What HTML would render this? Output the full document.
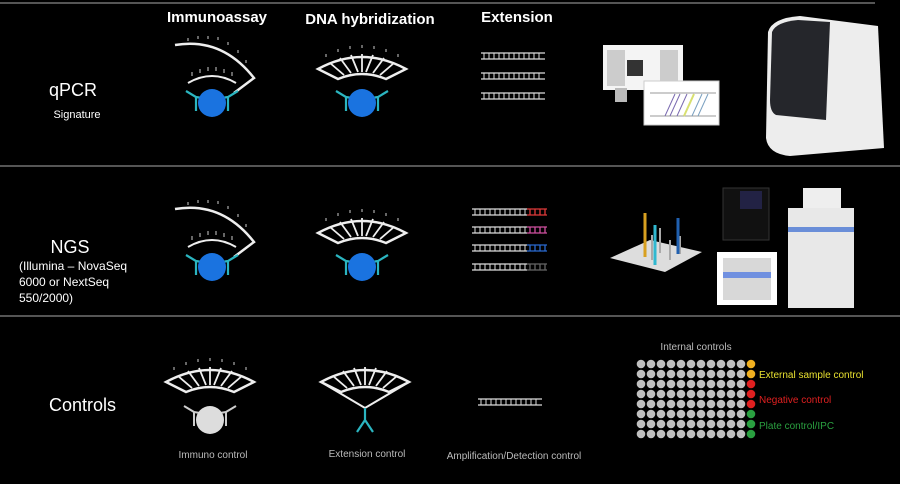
<!DOCTYPE html>
<html><head><meta charset="utf-8"><style>
html,body{margin:0;padding:0;background:#000;}
body{width:900px;height:479px;overflow:hidden;font-family:"Liberation Sans",sans-serif;}
</style></head><body>
<svg width="900" height="479" viewBox="0 0 900 479" xmlns="http://www.w3.org/2000/svg" font-family="Liberation Sans, sans-serif">
<defs>
  <g id="ladder">
    <line x1="0" y1="0" x2="64" y2="0" stroke="#ddd" stroke-width="1.3"/>
    <line x1="0" y1="6" x2="64" y2="6" stroke="#ddd" stroke-width="1.3"/>
    <path d="M3 0v6M8 0v6M13 0v6M18 0v6M23 0v6M28 0v6M33 0v6M38 0v6M43 0v6M48 0v6M53 0v6M58 0v6" stroke="#ddd" stroke-width="1"/>
  </g>
  <g id="teal">
    <path d="M-26 -12 L-16 -6 L-16 8 M-16 -6 L-4 -4 M26 -12 L16 -6 L16 8 M16 -6 L4 -4" stroke="#2bb5c0" stroke-width="2.2" fill="none"/>
  </g>
  <g id="immuno">
    <path d="M-37 -58 Q10 -66 42 -25 L22 -10" stroke="#eee" stroke-width="2.5" fill="none"/>
    <path d="M-24 -20 Q0 -34 24 -20" stroke="#eee" stroke-width="2" fill="none"/>
    <path d="M-20 -27v-4M-12 -30v-4M-4 -32v-4M4 -32v-4M12 -30v-4M20 -27v-4M-24 -62v-3M-14 -64v-3M-4 -64v-3M6 -63v-3M16 -58v-3M26 -50v-3M34 -40v-3" stroke="#ccc" stroke-width="1"/>
  </g>
  <g id="fan">
    <path d="M-44 -34 Q0 -58 44 -34 L24 -24 Q0 -34 -24 -24 Z" stroke="#eee" stroke-width="2.5" fill="none"/>
    <path d="M-32 -40 L-18 -28 M-22 -45 L-11 -30 M-11 -48 L-4 -31 M0 -49 L0 -31 M11 -48 L4 -31 M22 -45 L11 -30 M32 -40 L18 -28" stroke="#eee" stroke-width="1.8"/>
    <path d="M-36 -46v-3M-24 -51v-3M-12 -54v-3M0 -55v-3M12 -54v-3M24 -51v-3M36 -46v-3" stroke="#ccc" stroke-width="1"/>
  </g>
  <g id="row" fill="#c0c0c0"><circle cx="641" cy="0" r="4.3"/><circle cx="651" cy="0" r="4.3"/><circle cx="661" cy="0" r="4.3"/><circle cx="671" cy="0" r="4.3"/><circle cx="681" cy="0" r="4.3"/><circle cx="691" cy="0" r="4.3"/><circle cx="701" cy="0" r="4.3"/><circle cx="711" cy="0" r="4.3"/><circle cx="721" cy="0" r="4.3"/><circle cx="731" cy="0" r="4.3"/><circle cx="741" cy="0" r="4.3"/></g>
</defs>
<!-- separators -->
<line x1="0" y1="3" x2="875" y2="3" stroke="#888" stroke-width="1.2"/>
<line x1="0" y1="166" x2="900" y2="166" stroke="#888" stroke-width="1.2"/>
<line x1="0" y1="316" x2="900" y2="316" stroke="#888" stroke-width="1.2"/>
<!-- headers -->
<g fill="#fff" font-weight="bold" font-size="15" text-anchor="middle">
<text x="217" y="22">Immunoassay</text>
<text x="370" y="24">DNA hybridization</text>
<text x="517" y="22">Extension</text>
</g>
<!-- left labels -->
<g fill="#fff">
<text x="73" y="96" font-size="18" text-anchor="middle">qPCR</text>
<text x="77" y="118" font-size="11" text-anchor="middle">Signature</text>
<text x="70" y="253" font-size="18" text-anchor="middle">NGS</text>
<text x="19" y="270" font-size="12">(Illumina – NovaSeq</text>
<text x="19" y="286" font-size="12">6000 or NextSeq</text>
<text x="19" y="302" font-size="12">550/2000)</text>
<text x="49" y="411" font-size="18">Controls</text>
</g>
<!-- row1 glyphs -->
<g transform="translate(212,103)"><use href="#immuno"/><use href="#teal"/><circle r="14" fill="#1a73e0"/></g>
<g transform="translate(362,103)"><use href="#fan"/><use href="#teal"/><circle r="14" fill="#1a73e0"/></g>
<use href="#ladder" x="481" y="53"/><use href="#ladder" x="481" y="73"/><use href="#ladder" x="481" y="93"/>
<!-- row2 glyphs -->
<g transform="translate(212,267)"><use href="#immuno"/><use href="#teal"/><circle r="14" fill="#1a73e0"/></g>
<g transform="translate(362,267)"><use href="#fan"/><use href="#teal"/><circle r="14" fill="#1a73e0"/></g>
<use href="#ladder" x="472" y="209"/><use href="#ladder" x="472" y="227"/><use href="#ladder" x="472" y="245"/><use href="#ladder" x="472" y="264"/>
<rect x="527" y="207" width="20" height="10" fill="#000"/>
<path d="M527 209h20M527 215h20M530 209v6M535 209v6M540 209v6M545 209v6" stroke="#e03a3a" stroke-width="1.3"/>
<rect x="527" y="225" width="20" height="10" fill="#000"/><path d="M527 227h20M527 233h20M530 227v6M535 227v6M540 227v6M545 227v6" stroke="#d050a0" stroke-width="1.3"/>
<rect x="527" y="243" width="20" height="10" fill="#000"/><path d="M527 245h20M527 251h20M530 245v6M535 245v6M540 245v6M545 245v6" stroke="#2a6ad0" stroke-width="1.3"/>
<rect x="527" y="262" width="20" height="10" fill="#000"/><path d="M527 264h20M527 270h20M530 264v6M535 264v6M540 264v6M545 264v6" stroke="#666" stroke-width="1.3"/>
<!-- row3 glyphs -->
<g transform="translate(210,420)">
  <use href="#fan" transform="translate(0,-4)"/>
  <path d="M-26 -14 L-16 -8 L-16 6 M-16 -8 L-4 -6 M26 -14 L16 -8 L16 6 M16 -8 L4 -6" stroke="#ccc" stroke-width="2" fill="none"/>
  <circle r="14" fill="#ddd"/>
</g>
<g transform="translate(365,420)">
  <path d="M-44 -38 Q0 -62 44 -38 L24 -28 Q0 -38 -24 -28 Z" stroke="#eee" stroke-width="2.5" fill="none"/>
  <path d="M-32 -44 L-18 -32 M-22 -49 L-11 -34 M-11 -52 L-4 -35 M0 -53 L0 -35 M11 -52 L4 -35 M22 -49 L11 -34 M32 -44 L18 -32" stroke="#eee" stroke-width="1.8"/>
  <path d="M-44 -38 L0 -12 L44 -38" stroke="#eee" stroke-width="2" fill="none"/>
  <path d="M0 -12 L0 0 L-8 12 M0 0 L8 12" stroke="#2bb5c0" stroke-width="2.2" fill="none"/>
</g>
<use href="#ladder" x="478" y="399"/>
<g fill="#bbb" font-size="10" text-anchor="middle">
<text x="213" y="458">Immuno control</text>
<text x="367" y="457">Extension control</text>
<text x="514" y="459">Amplification/Detection control</text>
<text x="696" y="350">Internal controls</text>
</g>
<!-- qPCR images -->
<rect x="603" y="45" width="80" height="45" fill="#f4f4f4"/>
<rect x="607" y="50" width="18" height="36" fill="#ccc"/><rect x="660" y="50" width="18" height="36" fill="#ccc"/>
<rect x="627" y="60" width="16" height="16" fill="#333"/>
<rect x="615" y="88" width="12" height="14" fill="#bbb"/>
<rect x="644" y="81" width="75" height="44" fill="#fff" stroke="#ccc"/>
<path d="M650 116h66M650 93h66" stroke="#999"/>
<path d="M665 116l10 -22M670 116l10 -22M677 116l10 -22" stroke="#7a6ab0" fill="none"/>
<path d="M684 116l10 -22" stroke="#d8e070" stroke-width="2"/>
<path d="M692 116l10 -22M698 116l10 -22" stroke="#7aa0c0" fill="none"/>
<path d="M768 32 Q772 18 800 16 L878 26 L884 148 L790 156 Q768 154 766 138 Z" fill="#ededed"/>
<path d="M772 32 Q776 22 798 20 L830 22 L826 120 L776 115 Q770 112 770 100 Z" fill="#25262b"/>
<!-- NGS images -->
<polygon points="610,258 650,240 702,252 665,272" fill="#ddd"/>
<path d="M645 232v25M652 235v25M660 228v25M670 240v20M680 236v18" stroke="#aaa" stroke-width="2"/>
<path d="M645 213v44" stroke="#d8a020" stroke-width="3"/><path d="M655 225v40" stroke="#30b8d0" stroke-width="3"/><path d="M678 218v36" stroke="#2060b0" stroke-width="3"/>
<rect x="723" y="188" width="46" height="52" fill="#111" stroke="#333"/>
<rect x="740" y="191" width="22" height="18" fill="#224"/>
<rect x="717" y="252" width="60" height="53" fill="#fff"/>
<rect x="723" y="258" width="48" height="42" fill="#d8d8d8"/><rect x="723" y="272" width="48" height="6" fill="#7090e0"/>
<rect x="803" y="188" width="38" height="26" fill="#eee"/>
<rect x="788" y="208" width="66" height="100" fill="#e8e8e8"/>
<rect x="788" y="227" width="66" height="5" fill="#6a8ed8"/>
<!-- plate grid -->
<use href="#row" y="364"/><use href="#row" y="374"/><use href="#row" y="384"/><use href="#row" y="394"/><use href="#row" y="404"/><use href="#row" y="414"/><use href="#row" y="424"/><use href="#row" y="434"/>
<circle cx="751" cy="364" r="4.3" fill="#f0b020"/><circle cx="751" cy="374" r="4.3" fill="#f0b020"/>
<circle cx="751" cy="384" r="4.3" fill="#e02020"/><circle cx="751" cy="394" r="4.3" fill="#e02020"/><circle cx="751" cy="404" r="4.3" fill="#e02020"/>
<circle cx="751" cy="414" r="4.3" fill="#2aa040"/><circle cx="751" cy="424" r="4.3" fill="#2aa040"/><circle cx="751" cy="434" r="4.3" fill="#2aa040"/>
<g font-size="10">
<text x="759" y="378" fill="#e8e030">External sample control</text>
<text x="759" y="403" fill="#e02020">Negative control</text>
<text x="759" y="429" fill="#2aa040">Plate control/IPC</text>
</g>
</svg>
</body></html>
